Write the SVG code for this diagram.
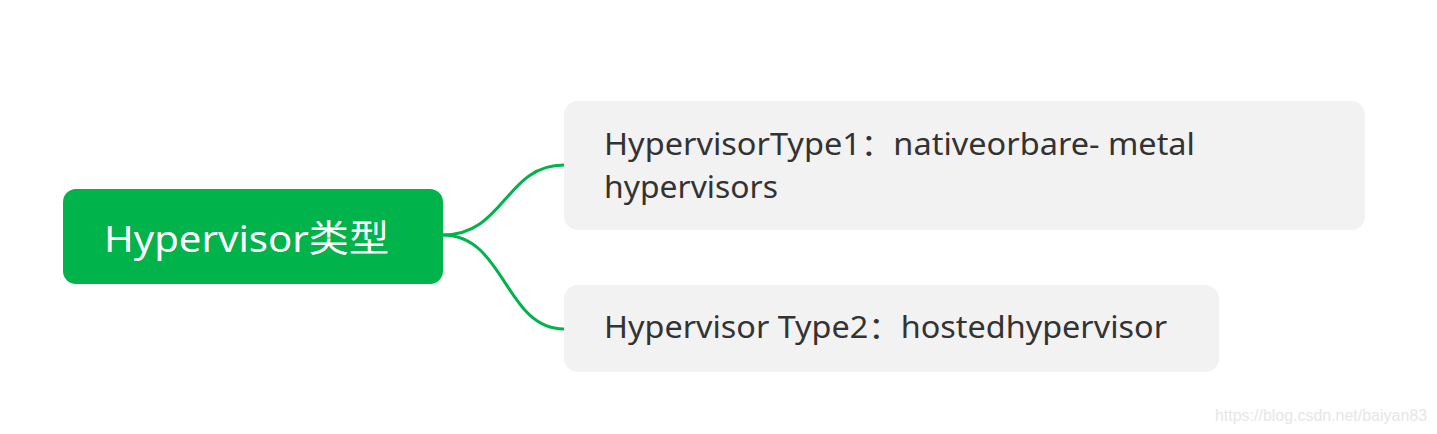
<svg xmlns="http://www.w3.org/2000/svg" width="1437" height="434" viewBox="0 0 1437 434">
<style>
.root{fill:#00b34a}
.child{fill:#f2f2f2}
.rt{font-family:"Noto Sans","Noto Sans CJK SC",sans-serif;font-size:37px;fill:#ffffff}
.ct{font-family:"Noto Sans","Noto Sans CJK SC",sans-serif;font-size:30px;fill:#333333}
.conn{fill:none;stroke:#00b34a;stroke-width:3}
.wm{font-family:"Liberation Sans",Arial,sans-serif;font-size:16px;fill:#e6e6e6}
</style>
<rect width="1437" height="434" fill="#ffffff"/>
<g id="connectors">
<path class="conn" d="M443,235 C505,235 505,165 564,165"/>
<path class="conn" d="M443,235 C505,235 505,329 564,329"/>
</g>
<g id="root">
<rect class="root" x="63" y="189" width="380" height="95" rx="13"/>
<text class="rt" x="104" y="252" textLength="285" lengthAdjust="spacingAndGlyphs">Hypervisor类型</text>
</g>
<g id="type1">
<rect class="child" x="564" y="101" width="801" height="129" rx="14"/>
<text class="ct" x="604" y="155" textLength="591" lengthAdjust="spacingAndGlyphs">HypervisorType1：nativeorbare- metal</text>
<text class="ct" x="604" y="198" textLength="174" lengthAdjust="spacingAndGlyphs">hypervisors</text>
</g>
<g id="type2">
<rect class="child" x="564" y="285" width="655" height="87" rx="14"/>
<text class="ct" x="604" y="338" textLength="563" lengthAdjust="spacingAndGlyphs">Hypervisor Type2：hostedhypervisor</text>
</g>
<text class="wm" x="1215" y="421" textLength="212" lengthAdjust="spacingAndGlyphs">https://blog.csdn.net/baiyan83</text>
</svg>
